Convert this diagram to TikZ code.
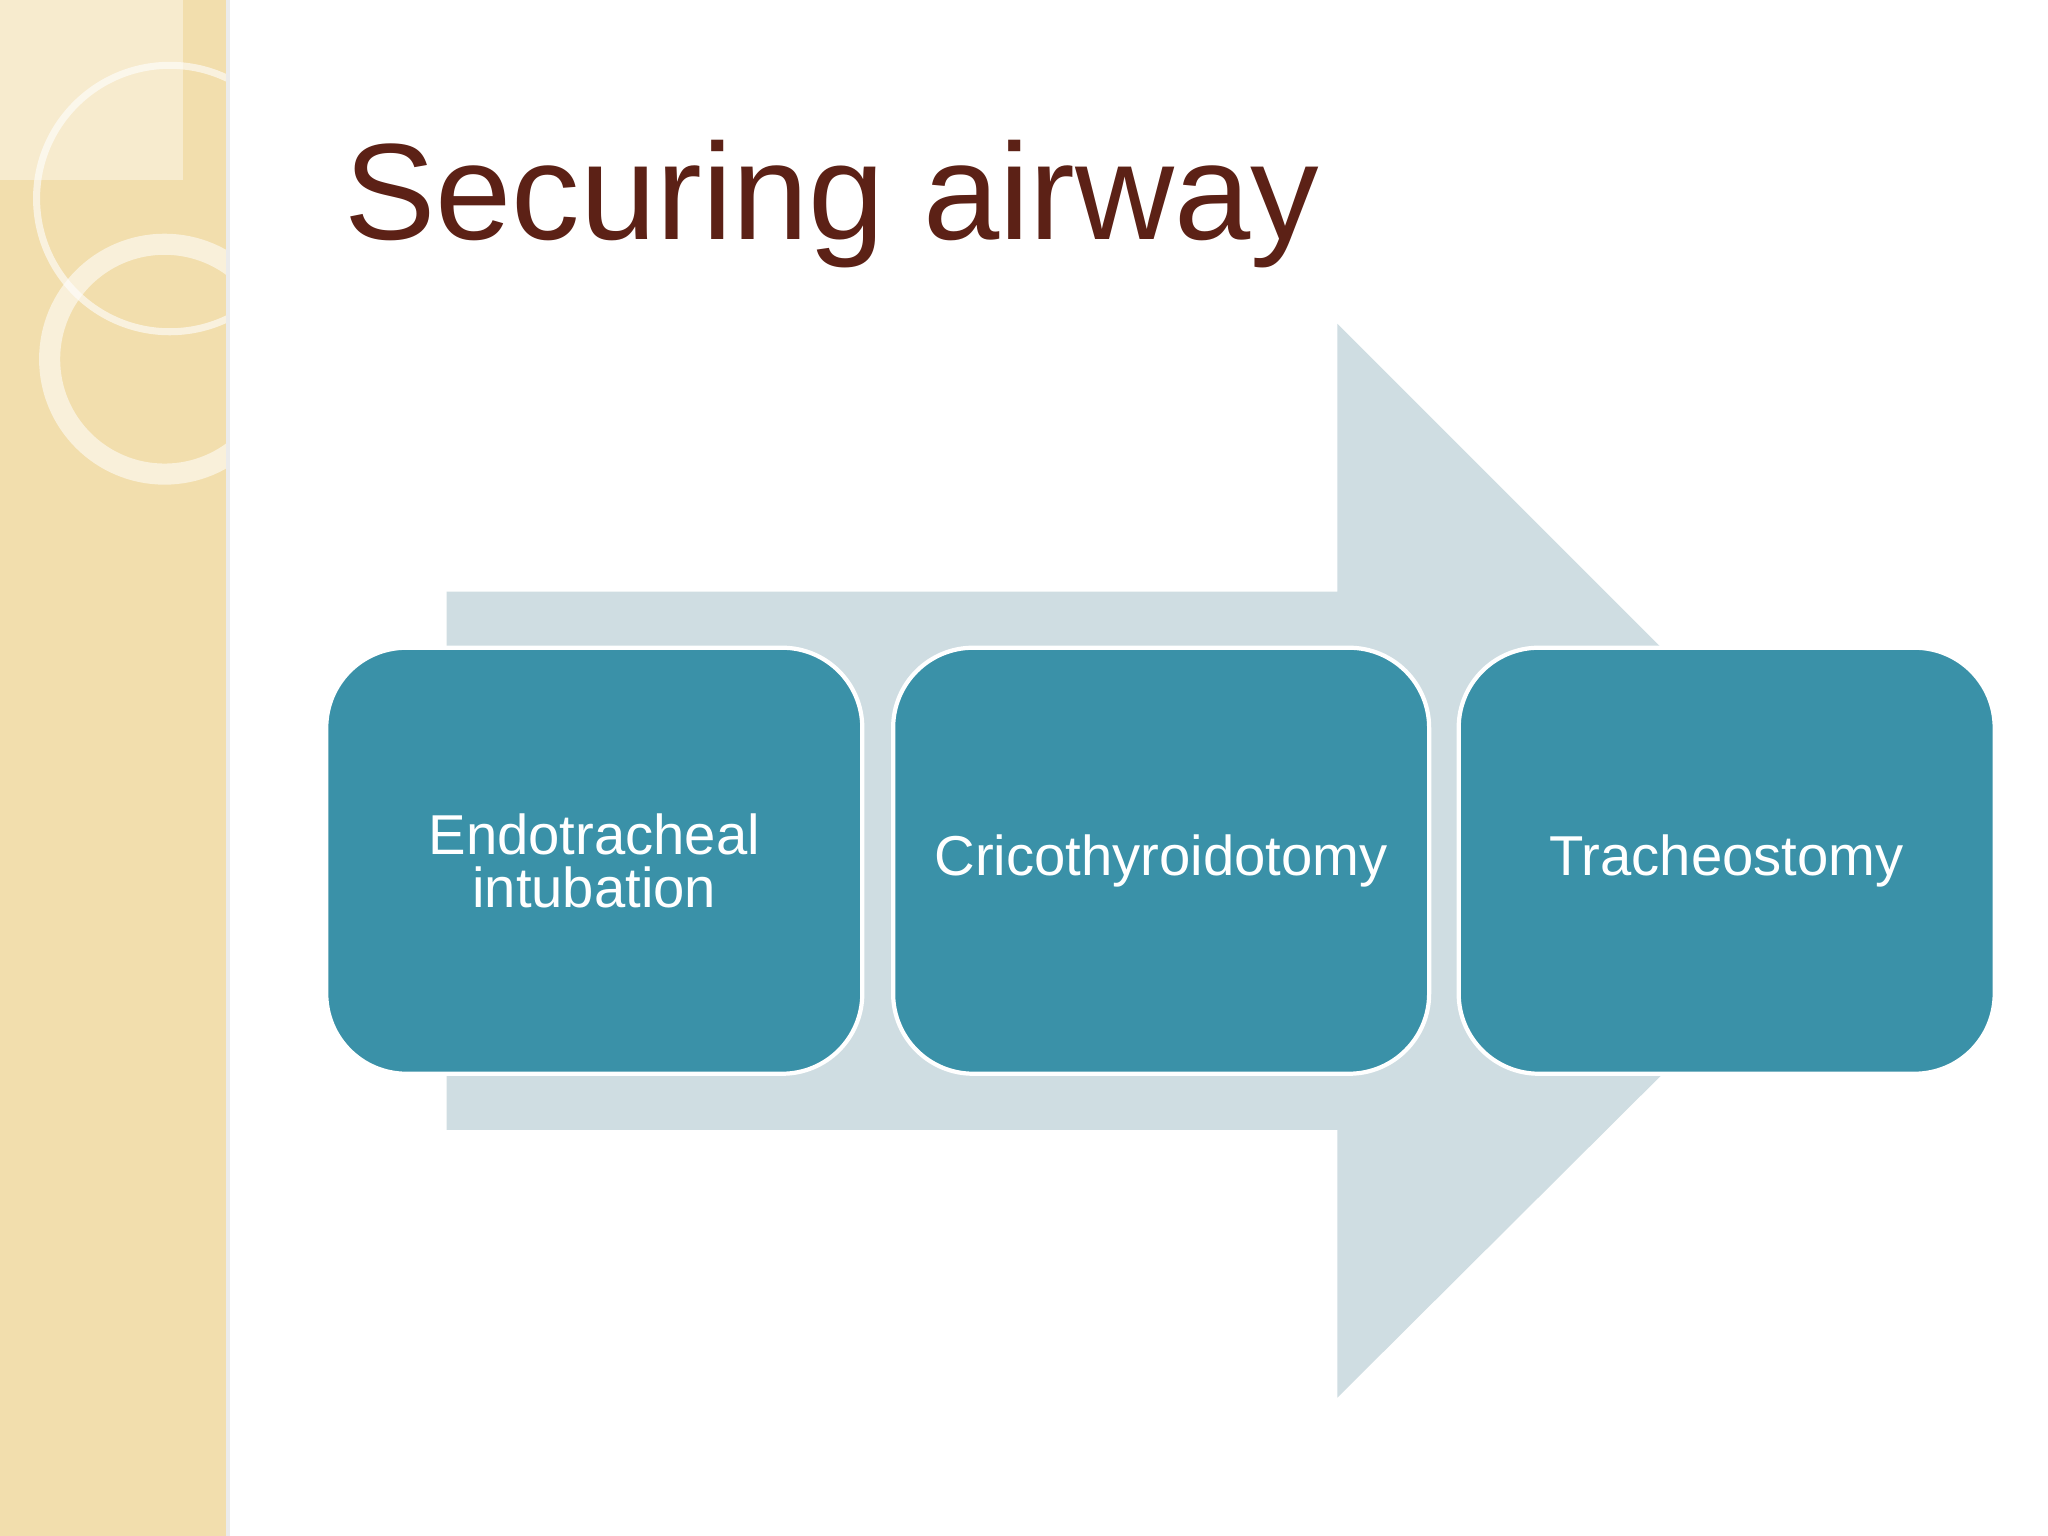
\documentclass[tikz,border=0pt]{standalone}
\usepackage{fontspec}
\setmainfont{Liberation Sans}
\definecolor{band}{HTML}{F2DEAD}
\definecolor{title}{HTML}{5C2116}
\definecolor{arrowc}{HTML}{CFDDE2}
\definecolor{boxc}{HTML}{3A91A8}
\tikzset{stepbox/.style={draw=white,line width=1.2pt,fill=boxc,rounded corners=0.8cm,minimum width=5.36cm,minimum height=4.26cm,text=white,font=\fontsize{16}{17}\selectfont,align=center,inner sep=0pt}}
\begin{document}
\begin{tikzpicture}[x=0.01306cm,y=-0.01306cm]
\useasboundingbox (0,0) rectangle (1568,1176);
\fill[white] (0,0) rectangle (1568,1176);
\fill[band] (0,0) rectangle (173,1176);
\fill[band!60!white] (0,0) rectangle (140,138);
\begin{scope}
\clip (0,0) rectangle (173,1176);
\draw[white,opacity=0.6,line width=2pt] (130,152) circle (102);
\draw[white,opacity=0.55,line width=6pt] (126,275) circle (88);
\end{scope}
\fill[black!8] (173,0) rectangle (176,1176);
\node[anchor=base west,text=title,font=\fontsize{39}{40}\selectfont,inner sep=0pt] (t) at (263,183) {Securing airway};
\fill[arrowc] (342,453) -- (1024,453) -- (1024,248) -- (1436,660) -- (1024,1070) -- (1024,865) -- (342,865) -- cycle;
\node[stepbox] (a) at (455,659) {Endotracheal\\[-2pt]intubation};
\node[stepbox] (b) at (889,659) {Cricothyroidotomy};
\node[stepbox] (c) at (1322,659) {Tracheostomy};
\end{tikzpicture}
\end{document}
